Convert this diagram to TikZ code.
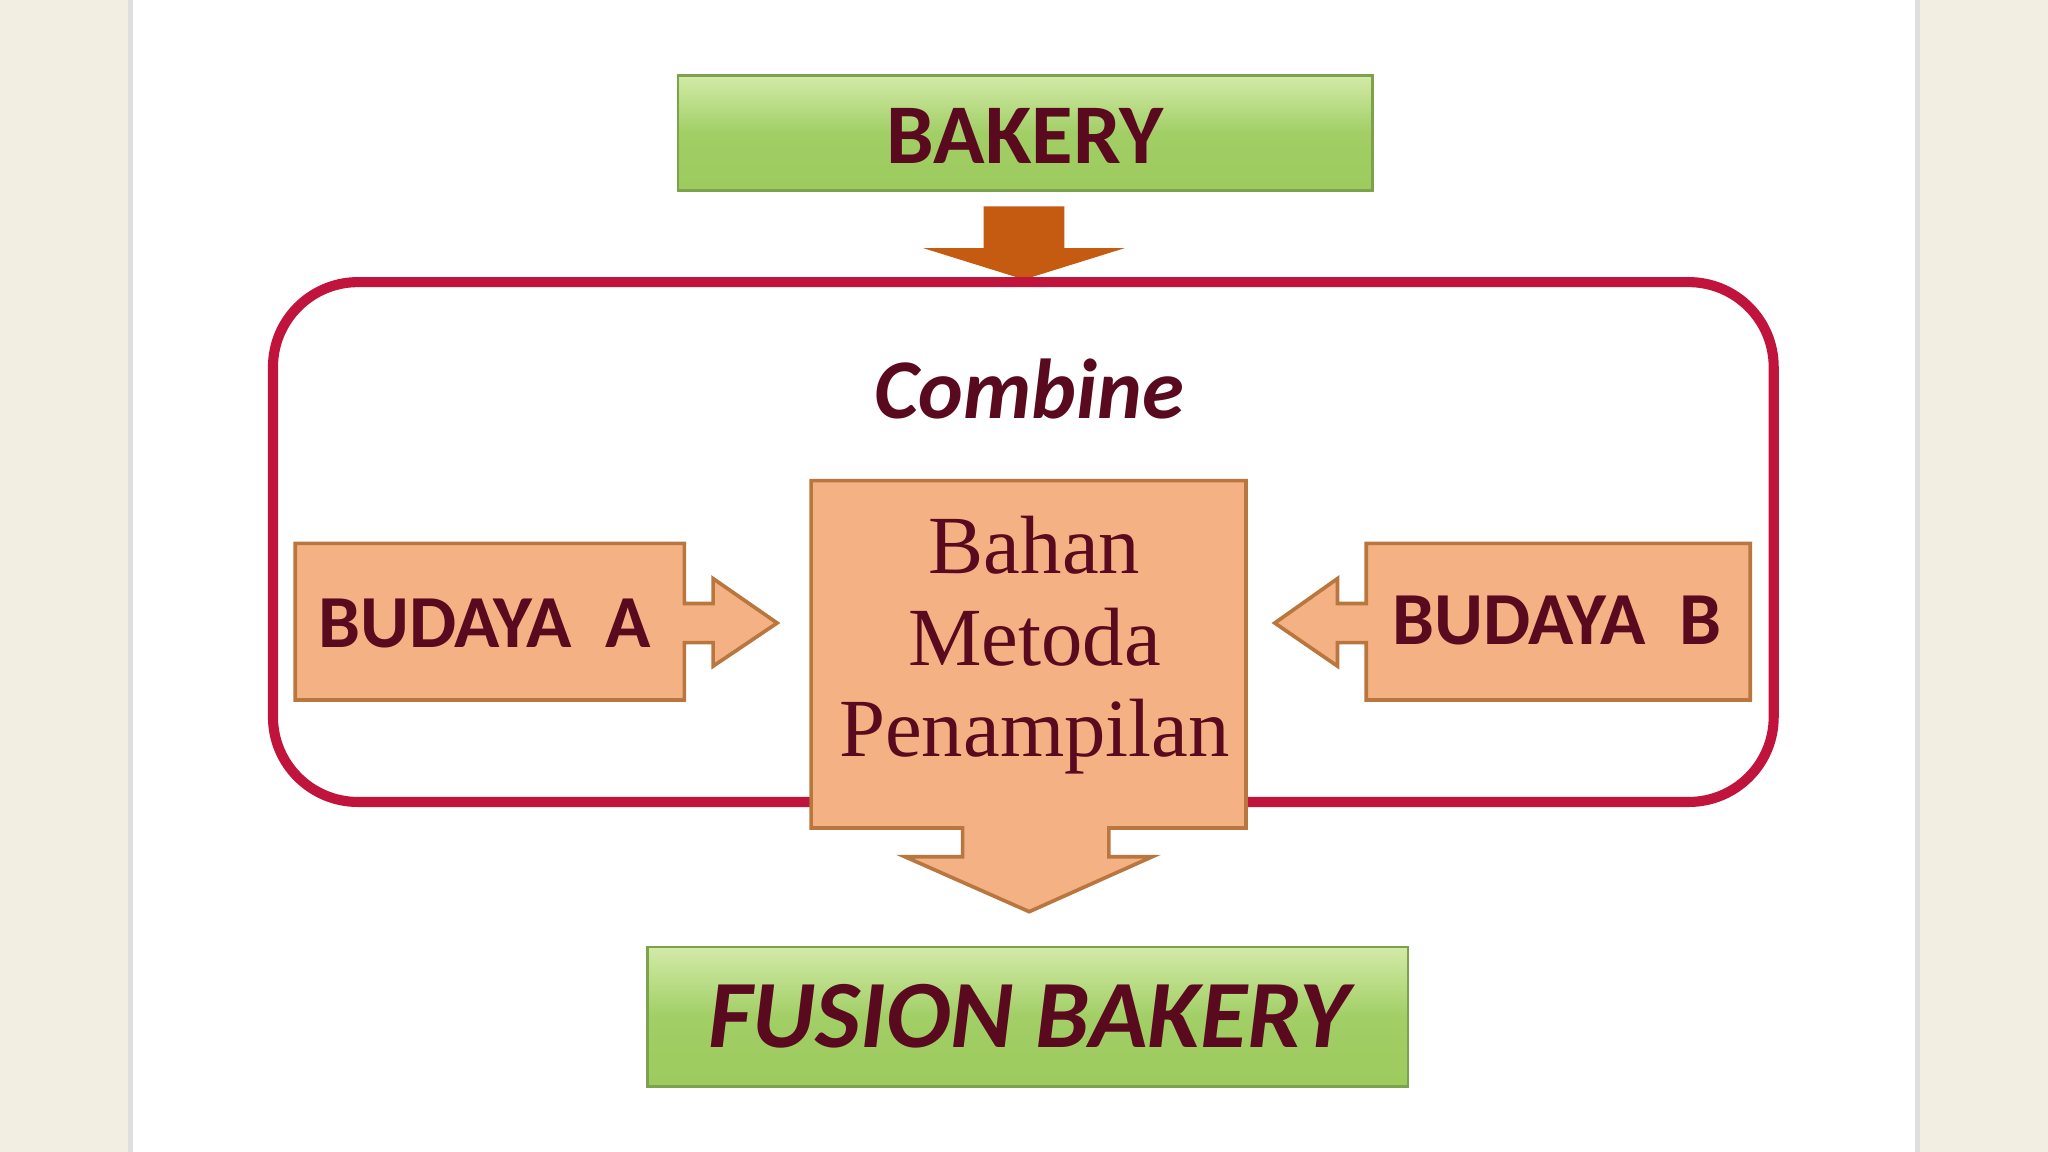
\documentclass[tikz,border=0pt]{standalone}
\usepackage{fontspec}
\setmainfont{Liberation Serif}
\newfontfamily\carl{Carlito}
\definecolor{maroon}{HTML}{5A0A1E}
\definecolor{gtop}{HTML}{D2EBA8}
\definecolor{gbot}{HTML}{9CCB5E}
\definecolor{peach}{HTML}{F4B183}
\definecolor{peachb}{HTML}{B9773F}
\definecolor{rim}{HTML}{C0143C}
\definecolor{arr}{HTML}{C55A11}
\definecolor{beige}{HTML}{F3EEE2}
\begin{document}
\begin{tikzpicture}[x=0.01cm,y=-0.01cm,
  gbox/.style={draw=gbot!80!black,line width=0.6pt,top color=gtop,bottom color=gbot,middle color=gbot!90!gtop},
  pbox/.style={draw=peachb,line width=0.8pt,fill=peach},
  lbl/.style={font=\carl\bfseries\fontsize{18.5}{22}\selectfont,text=maroon}]
\useasboundingbox (0,0) rectangle (1568,882);
\fill[beige] (0,0) rectangle (1568,882);
\fill[white] (100,0) rectangle (1468,882);
\draw[gray!25,line width=1pt] (100,0) -- (100,882) (1468,0) -- (1468,882);
% bakery
\path[gbox] (519,58) rectangle (1051,146);
\node[lbl] (bakery) at (785,104) {BAKERY};
% down arrow
\fill[arr] (753,158) -- (815,158) -- (815,190) -- (861,190) -- (784,214) -- (707,190) -- (753,190) -- cycle;
% combine frame
\draw[rim,line width=2.2pt,rounded corners=0.65cm] (209,216) rectangle (1358,614);
\node[lbl,font=\carl\bfseries\itshape\fontsize{18.5}{22}\selectfont] (combine) at (788,298) {Combine};
% center box
\path[pbox] (621,368) -- (954,368) -- (954,634) -- (849,634) -- (849,656) -- (882,656) -- (788,698) -- (693,656) -- (737,656) -- (737,634) -- (621,634) -- cycle;
\node[align=center,text=maroon,font=\fontsize{18}{20}\selectfont] (mid) at (792,494) {Bahan\\Metoda\\Penampilan};
% budaya A
\path[pbox] (226,416) -- (524,416) -- (524,462) -- (546,462) -- (546,443) -- (595,477) -- (546,510) -- (546,492) -- (524,492) -- (524,536) -- (226,536) -- cycle;
\node[lbl,font=\carl\bfseries\fontsize{16.3}{20}\selectfont] (a) at (371,477) {BUDAYA\ \ A};
% budaya B
\path[pbox] (1340,416) -- (1046,416) -- (1046,462) -- (1024,462) -- (1024,443) -- (976,477) -- (1024,510) -- (1024,492) -- (1046,492) -- (1046,536) -- (1340,536) -- cycle;
\node[lbl,font=\carl\bfseries\fontsize{16.3}{20}\selectfont] (b) at (1192,475) {BUDAYA\ \ B};
% fusion
\path[gbox] (496,725) rectangle (1078,832);
\node[lbl,font=\carl\bfseries\itshape\fontsize{21}{25}\selectfont] (fusion) at (788,778) {FUSION BAKERY};
\end{tikzpicture}
\end{document}
